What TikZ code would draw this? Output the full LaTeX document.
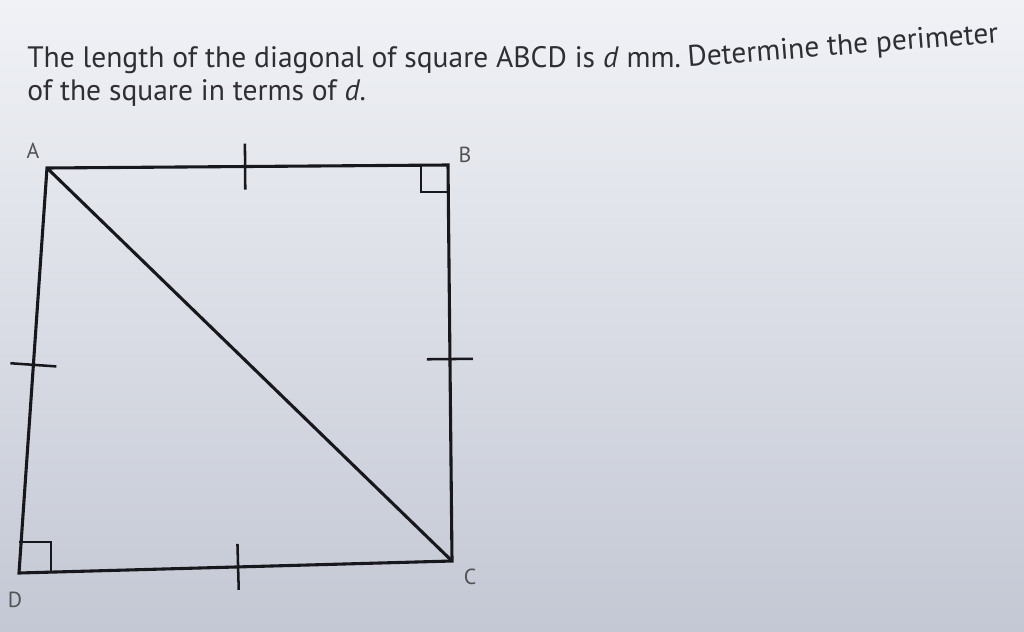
\documentclass[tikz,border=0pt]{standalone}
\usepackage{fontspec}
\setmainfont{PT Sans}
\definecolor{paperTop}{RGB}{240,242,246}
\definecolor{paperBot}{RGB}{196,200,212}
\definecolor{ink}{RGB}{24,24,28}

\begin{document}
\begin{tikzpicture}[x=0.025cm, y=-0.025cm]
	\tikzset{Side/.style =
	{draw = ink,
		line width = 2.2pt,
		line join = miter},
	TickMark/.style =
	{draw = ink,
		line width = 1.8pt,
		sloped,
		inner sep = 0pt,
		minimum width = 0pt,
		minimum height = 1.15cm},
	Question/.style =
	{anchor = base west,
		inner sep = 0pt,
		text = ink!90,
		font = \fontsize{21}{25}\selectfont},
	VertexLabel/.style =
	{text = ink!75,
		font = \fontsize{15.5}{18}\selectfont}}
% page
\shade[top color=paperTop, bottom color=paperBot] (0,0) rectangle (1024,631);
\useasboundingbox (0,0) rectangle (1024,631);
% question text
\node[Question] (q1) at (27,67)
	{The length of the diagonal of square ABCD is \emph{d} mm.};
\node[Question, rotate=4.5] (q2) at (688,67)
	{Determine the perimeter};
\node[Question] (q3) at (27,100)
	{of the square in terms of \emph{d}.};
% square
\coordinate (A) at (47,168);
\coordinate (B) at (448,165);
\coordinate (C) at (452,561);
\coordinate (D) at (19,573);
\node[VertexLabel] (lA) at (33,151) {A};
\node[VertexLabel] (lB) at (465,155) {B};
\node[VertexLabel] (lC) at (470,577) {C};
\node[VertexLabel] (lD) at (15,600) {D};
\draw[Side] (A) -- (B) -- (C) -- (D) -- cycle;
\draw[Side] (A) -- (C);
%\draw[Side] (B) -- (D);
% equal sides
\path (A) -- (B) node[TickMark, pos=0.494] (tAB) {};
\path (B) -- (C) node[TickMark, pos=0.49] (tBC) {};
\path (D) -- (C) node[TickMark, pos=0.506] (tDC) {};
\path (A) -- (D) node[TickMark, pos=0.486] (tAD) {};
% right angles
\draw[ink, line width=1.8pt] (B) ++(-27,0) -- ++(0,27) -- ++(27,0);
\draw[ink, line width=1.8pt] (D) ++(0,-31) -- ++(32,0) -- ++(0,31);

\end{tikzpicture}
\end{document}
